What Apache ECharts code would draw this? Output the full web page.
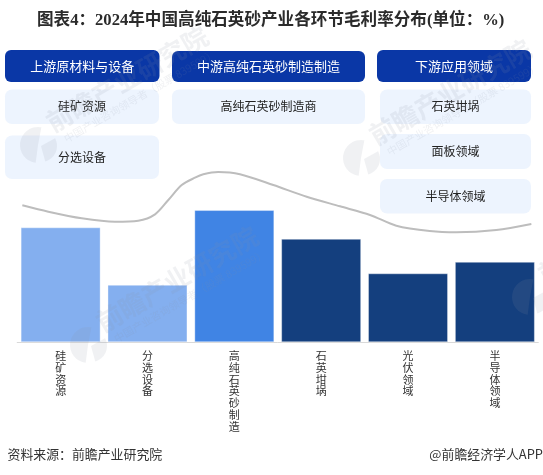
<!DOCTYPE html>
<html><head><meta charset="utf-8">
<style>html,body{margin:0;padding:0;background:#fff}#c{width:543px;height:475px}</style>
<script src="https://cdn.jsdelivr.net/npm/echarts@6/dist/echarts.min.js"></script>
</head><body><div id="c"></div>
<script>
const categories = ['硅矿资源','分选设备','高纯石英砂制造','石英坩埚','光伏领域','半导体领域'];
const margins = [40,20,46,36,24,28];
const barColors = ['#84AFEF','#84AFEF','#4084E4','#143F7E','#143F7E','#143F7E'];
const curveX = [0.059,0.358,0.743,1.126,1.394,1.587,1.74,1.894,2.047,2.143,2.315,2.565,2.949,3.333,3.717,4.062,4.365,4.75,5.056,5.516,5.92];
const curveY = [47.65,45.43,43.13,41.95,42.3,44.52,49.5,54.7,57.25,58.43,59.2,58.43,54.7,50.64,47.3,44.3,40.56,38.7,38.26,39.06,41.15];
const title = '图表4：2024年中国高纯石英砂产业各环节毛利率分布(单位：%)';
const headers = ['上游原材料与设备','中游高纯石英砂制造制造','下游应用领域'];
const upstream = ['硅矿资源','分选设备'];
const midstream = ['高纯石英砂制造商'];
const downstream = ['石英坩埚','面板领域','半导体领域'];
const sourceText = '资料来源：前瞻产业研究院';
const brandText = '@前瞻经济学人APP';

const CJK = '"Noto Sans CJK SC","Noto Sans",sans-serif';
function box(x,y,w,h,fill,label,color,size,r){
  return [
    {type:'rect',shape:{x,y,width:w,height:h,r:r},style:{fill:fill},z:1},
    {type:'text',x:x+w/2,y:y+h/2,style:{text:label,fill:color,font:'400 '+size+'px '+CJK,align:'center',verticalAlign:'middle'},z:2}
  ];
}
function mark(lx,ly){
  const rot=30*Math.PI/180;
  const c='rgba(140,150,165,0.13)';
  const cx=lx+89, cy=ly-66;
  return [
   {type:'text',x:cx,y:cy,rotation:rot,style:{text:'前瞻产业研究院',fill:c,font:'700 26px '+CJK,align:'center',verticalAlign:'middle'},z:20,silent:true},
   {type:'text',x:cx+13,y:cy+17,rotation:rot,style:{text:'中国产业咨询领导者（股票 839599）',fill:c,font:'400 10.5px '+CJK,align:'center',verticalAlign:'middle'},z:20,silent:true},
   {type:'sector',shape:{cx:lx,cy:ly,r:18,r0:0,startAngle:1.7,endAngle:4.9},style:{fill:c},z:20,silent:true},
   {type:'sector',shape:{cx:lx+3,cy:ly+1,r:16,r0:0,startAngle:-0.5,endAngle:1.3},style:{fill:c},z:20,silent:true}
  ];
}
const chart = echarts.init(document.getElementById('c'),null,{renderer:'canvas'});
chart.setOption({
  animation:false,
  backgroundColor:'#fff',
  title:{text:title,left:37,top:12,padding:0,
    textStyle:{fontFamily:'"Liberation Serif","Noto Sans CJK SC",serif',fontWeight:700,fontSize:16.6,color:'#2b2b2b'}},
  grid:{left:17.2,right:4.7,top:169.8,height:172.5,containLabel:false},
  xAxis:[
   {type:'category',data:categories,axisTick:{show:false},
    axisLine:{lineStyle:{color:'#d9d9d9',width:1}},
    axisLabel:{interval:0,margin:8,color:'#333',fontSize:11,lineHeight:11.7,fontFamily:CJK,
      formatter:v=>v.split('').join('\n'),verticalAlign:'top'}},
   {type:'value',min:0,max:6,show:false}
  ],
  yAxis:[{type:'value',min:0,max:60,show:false}],
  series:[
   {type:'bar',data:margins.map((v,i)=>({value:v,itemStyle:{color:barColors[i],borderColor:'rgba(255,255,255,0.35)',borderWidth:1}})),
    barWidth:80,xAxisIndex:0,yAxisIndex:0,z:2},
   {type:'line',data:curveX.map((x,i)=>[x,curveY[i]]),xAxisIndex:1,yAxisIndex:0,smooth:0.3,showSymbol:false,
    lineStyle:{color:'#BDBDBD',width:2},z:3}
  ],
  graphic:{elements:[
    ...box(5,50,154.5,32,'#0A37A6',headers[0],'#fff',13,6),
    ...box(172,51,193,31,'#0A37A6',headers[1],'#fff',13,6),
    ...box(377,50,154,32,'#0A37A6',headers[2],'#fff',13,6),
    ...box(5,89.5,154,34.5,'#EDF4FE',upstream[0],'#222',12,7),
    ...box(5,135.5,154,43.5,'#EDF4FE',upstream[1],'#222',12,7),
    ...box(172,89.5,193,34.5,'#EDF4FE',midstream[0],'#222',12,7),
    ...box(380,89.5,151,34.5,'#EDF4FE',downstream[0],'#222',12,7),
    ...box(380,134,151,35,'#EDF4FE',downstream[1],'#222',12,7),
    ...box(380,179,151,34.5,'#EDF4FE',downstream[2],'#222',12,7),
    {type:'text',x:7.5,y:454,style:{text:sourceText,fill:'#333',font:'400 12.9px '+CJK,verticalAlign:'middle'},z:5},
    {type:'text',x:543,y:454,style:{text:brandText,fill:'#333',font:'400 12.9px '+CJK,align:'right',verticalAlign:'middle'},z:5},
    ...mark(38,145),
    ...mark(88,345),
    ...mark(361,158),
    ...mark(530,297)
  ]}
});
</script></body></html>
